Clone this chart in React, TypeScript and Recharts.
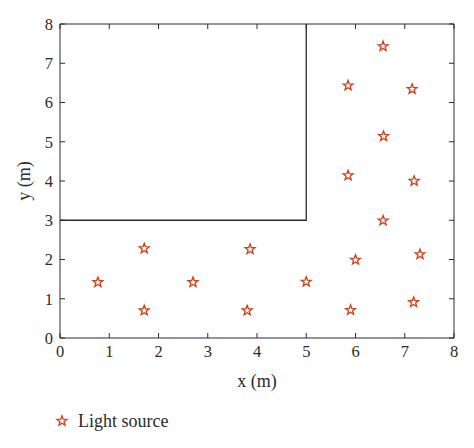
import React from "react"
import { ScatterChart, Scatter, XAxis, YAxis } from "recharts"

// light source positions (m)
const lightX = [0.77, 1.71, 1.71, 2.7, 3.86, 3.8, 5.0, 5.85, 7.19, 6.56, 6.0, 7.31, 5.9, 7.18, 6.56, 5.85, 7.15, 6.57]
const lightY = [1.42, 2.28, 0.7, 1.42, 2.26, 0.7, 1.43, 4.14, 4.0, 2.99, 1.99, 2.13, 0.71, 0.91, 7.43, 6.43, 6.34, 5.14]

// L-shaped wall outline
const wallX = [0, 5, 5]
const wallY = [3, 3, 8]

const xTicks = [0, 1, 2, 3, 4, 5, 6, 7, 8]
const yTicks = [0, 1, 2, 3, 4, 5, 6, 7, 8]

const lights = lightX.map((x, i) => ({ x, y: lightY[i] }))
const wall = wallX.map((x, i) => ({ x, y: wallY[i] }))

const FONT = '"Liberation Serif", "DejaVu Serif", serif'
const INK = "#2b2b2b"
const STAR = "#c9411d"

function starPoints(cx: number, cy: number, r: number) {
  const pts: string[] = []
  for (let i = 0; i < 10; i++) {
    const rad = i % 2 === 0 ? r : r * 0.42
    const a = -Math.PI / 2 + (i * Math.PI) / 5
    pts.push(`${cx + rad * Math.cos(a)},${cy + rad * Math.sin(a)}`)
  }
  return pts.join(" ")
}

function Star(props: any) {
  const { cx, cy } = props
  if (cx == null || cy == null) return <g />
  return <polygon points={starPoints(cx, cy, 5.2)} fill="#fff6f0" stroke={STAR} strokeWidth={1.3} />
}

const tickStyle = { fill: INK, fontSize: 16.5, fontFamily: FONT }

export default function App() {
  return (
    <div style={{ position: "absolute", left: 0, top: 0, width: 474, height: 448, background: "#fff" }}>
      <ScatterChart width={474} height={448} margin={{ top: 23, right: 19, left: 0, bottom: 74 }}>
        <XAxis
          xAxisId="b"
          dataKey="x"
          type="number"
          domain={[0, 8]}
          ticks={xTicks}
          orientation="bottom"
          height={36}
          tickSize={-5}
          tickMargin={12}
          stroke={INK}
          tick={tickStyle}
          label={{ value: "x (m)", position: "bottom", offset: 0, fill: INK, fontSize: 18, fontFamily: FONT }}
        />
        <XAxis
          xAxisId="t"
          dataKey="x"
          type="number"
          domain={[0, 8]}
          ticks={xTicks}
          orientation="top"
          height={1}
          tickSize={-5}
          stroke={INK}
          tickFormatter={() => ""}
        />
        <YAxis
          yAxisId="l"
          dataKey="y"
          type="number"
          domain={[0, 8]}
          ticks={yTicks}
          orientation="left"
          width={60}
          tickSize={-5}
          tickMargin={12}
          stroke={INK}
          tick={tickStyle}
          label={(p: any) => {
            const vb = p.viewBox
            const cx = vb.x + 24
            const cy = vb.y + vb.height / 2
            return (
              <text
                x={cx}
                y={cy}
                transform={`rotate(-90, ${cx}, ${cy})`}
                textAnchor="middle"
                dominantBaseline="central"
                fill={INK}
                fontSize={18}
                fontFamily={FONT}
              >
                y (m)
              </text>
            )
          }}
        />
        <YAxis
          yAxisId="r"
          dataKey="y"
          type="number"
          domain={[0, 8]}
          ticks={yTicks}
          orientation="right"
          width={1}
          tickSize={-5}
          stroke={INK}
          tickFormatter={() => ""}
        />
        <Scatter
          data={wall}
          xAxisId="t"
          yAxisId="r"
          line={{ stroke: INK, strokeWidth: 1.3 }}
          shape={() => <g />}
          isAnimationActive={false}
        />
        <Scatter data={lights} xAxisId="b" yAxisId="l" shape={<Star />} isAnimationActive={false} />
      </ScatterChart>
      <div
        style={{
          position: "absolute",
          left: 54,
          top: 409,
          display: "flex",
          alignItems: "center",
          fontFamily: FONT,
          fontSize: 18,
          color: INK,
        }}
      >
        <svg width={16} height={24}>
          <polygon points={starPoints(8, 12, 5.2)} fill="#fff6f0" stroke={STAR} strokeWidth={1.3} />
        </svg>
        <span style={{ marginLeft: 8 }}>Light source</span>
      </div>
    </div>
  )
}
